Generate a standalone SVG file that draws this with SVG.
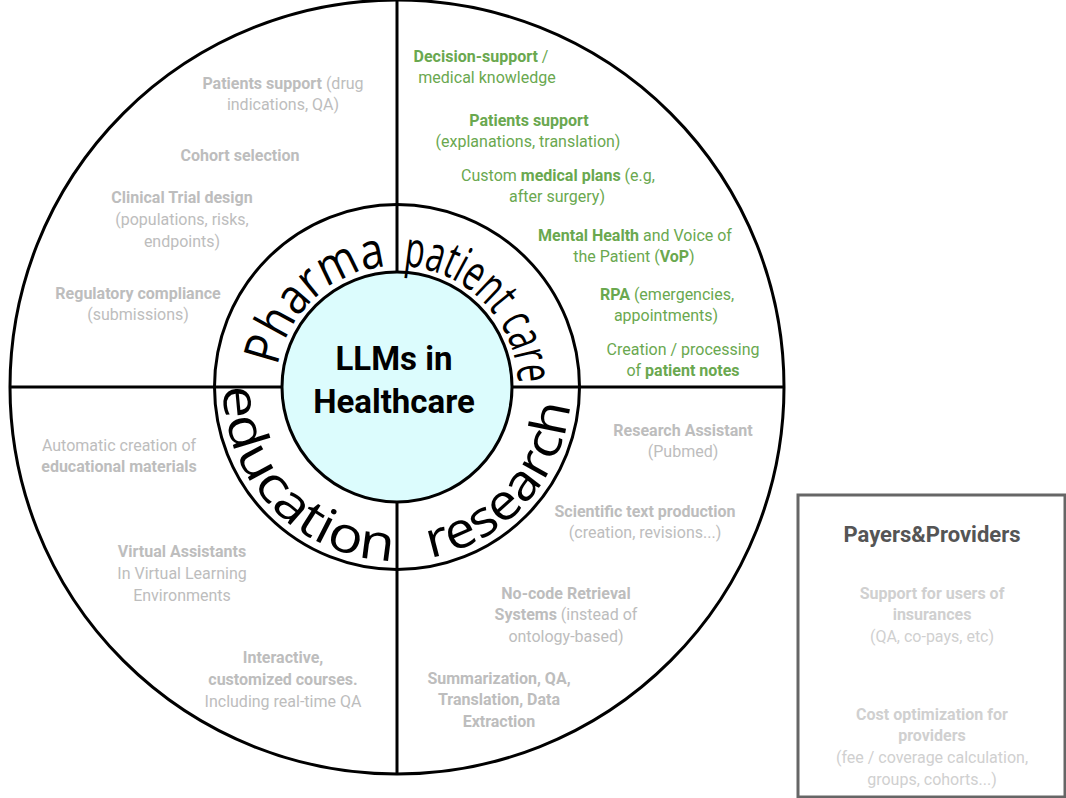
<svg xmlns="http://www.w3.org/2000/svg" width="1066" height="798" viewBox="0 0 1066 798">
<style>
.t{font-family:Roboto,"Liberation Sans",sans-serif;font-size:16px;text-anchor:middle}
.g{fill:#6aa84f}.y{fill:#bdbdbd}.p{fill:#d0d0d0}
.b{font-weight:bold}
.ring{font-family:"Open Sans","DejaVu Sans",sans-serif;font-size:50px;fill:#000}
.ln{stroke:#000;stroke-width:3;fill:none}
.ct{font-family:Roboto,"Liberation Sans",sans-serif;font-size:33px;font-weight:bold;text-anchor:middle;fill:#000}
</style>
<defs>
<path id="a1" d="M277.8,366.0 A121,121 0 0 1 386.4,266.5"/>
<path id="a2" d="M403.3,266.2 A121,121 0 0 1 517.9,382.8"/>
<path id="a3" d="M223,387 A174,174 0 0 0 392.4,560.9"/>
<path id="a4" d="M430.2,557.8 A174,174 0 0 0 570.0,405.2"/>
</defs>
<rect width="1066" height="798" fill="#fff"/>
<g id="wheel">
<circle cx="397" cy="387" r="387" style="fill:#fff;stroke:#000;stroke-width:3"/>
<g id="connectors">
<line x1="397" y1="0" x2="397" y2="774" class="ln"/>
<line x1="10" y1="387" x2="784" y2="387" class="ln"/>
</g>
<circle cx="397" cy="387" r="182.5" class="ln"/>
</g>
<g id="center">
<circle cx="397" cy="387" r="115" style="fill:#dcfcfd;stroke:#000;stroke-width:3"/>
<text x="394" y="370" class="ct">LLMs in</text>
<text x="394" y="413" class="ct">Healthcare</text>
</g>
<g id="labels-ring">
<text class="ring"><textPath href="#a1" textLength="158" lengthAdjust="spacingAndGlyphs">Pharma</textPath></text>
<text class="ring"><textPath href="#a2" textLength="180" lengthAdjust="spacingAndGlyphs">patient care</textPath></text>
<text class="ring"><textPath href="#a3" textLength="269" lengthAdjust="spacingAndGlyphs">education</textPath></text>
<text class="ring"><textPath href="#a4" textLength="222" lengthAdjust="spacingAndGlyphs">research</textPath></text>
</g>
<g id="pharma" class="t y">
<text x="283" y="89"><tspan class="b">Patients support</tspan> (drug</text>
<text x="283" y="110">indications, QA)</text>
<text x="240" y="161" class="b">Cohort selection</text>
<text x="182" y="203" class="b">Clinical Trial design</text>
<text x="182" y="225">(populations, risks,</text>
<text x="182" y="247">endpoints)</text>
<text x="138" y="299" class="b">Regulatory compliance</text>
<text x="138" y="320">(submissions)</text>
</g>
<g id="patientcare" class="t g">
<text x="481" y="62"><tspan class="b">Decision-support</tspan> /</text>
<text x="487" y="83">medical knowledge</text>
<text x="529" y="126" class="b">Patients support</text>
<text x="528" y="147">(explanations, translation)</text>
<text x="558" y="181">Custom <tspan class="b">medical plans</tspan> (e.g,</text>
<text x="557" y="202">after surgery)</text>
<text x="635" y="241"><tspan class="b">Mental Health</tspan> and Voice of</text>
<text x="634" y="262">the Patient (<tspan class="b">VoP</tspan>)</text>
<text x="667" y="300"><tspan class="b">RPA</tspan> (emergencies,</text>
<text x="666" y="321">appointments)</text>
<text x="683" y="355">Creation / processing</text>
<text x="683" y="376">of <tspan class="b">patient notes</tspan></text>
</g>
<g id="education" class="t y">
<text x="119" y="451">Automatic creation of</text>
<text x="119" y="472" class="b">educational materials</text>
<text x="182" y="557" class="b">Virtual Assistants</text>
<text x="182" y="579">In Virtual Learning</text>
<text x="182" y="601">Environments</text>
<text x="283" y="663" class="b">Interactive,</text>
<text x="283" y="685" class="b">customized courses.</text>
<text x="283" y="707">Including real-time QA</text>
</g>
<g id="research" class="t y">
<text x="683" y="436" class="b">Research Assistant</text>
<text x="683" y="457">(Pubmed)</text>
<text x="645" y="517" class="b">Scientific text production</text>
<text x="645" y="538">(creation, revisions...)</text>
<text x="566" y="599" class="b">No-code Retrieval</text>
<text x="566" y="620"><tspan class="b">Systems</tspan> (instead of</text>
<text x="566" y="642">ontology-based)</text>
<text x="499" y="684" class="b">Summarization, QA,</text>
<text x="499" y="705" class="b">Translation, Data</text>
<text x="499" y="727" class="b">Extraction</text>
</g>
<g id="payers">
<rect x="798" y="495" width="267" height="302" fill="#fff" stroke="#666" stroke-width="3"/>
<text x="932" y="542" class="t b" style="font-size:22px;fill:#555">Payers&amp;Providers</text>
<g class="t p">
<text x="932" y="599" class="b">Support for users of</text>
<text x="932" y="620" class="b">insurances</text>
<text x="932" y="642">(QA, co-pays, etc)</text>
<text x="932" y="720" class="b">Cost optimization for</text>
<text x="932" y="741" class="b">providers</text>
<text x="932" y="763">(fee / coverage calculation,</text>
<text x="932" y="785">groups, cohorts...)</text>
</g>
</g>
</svg>
